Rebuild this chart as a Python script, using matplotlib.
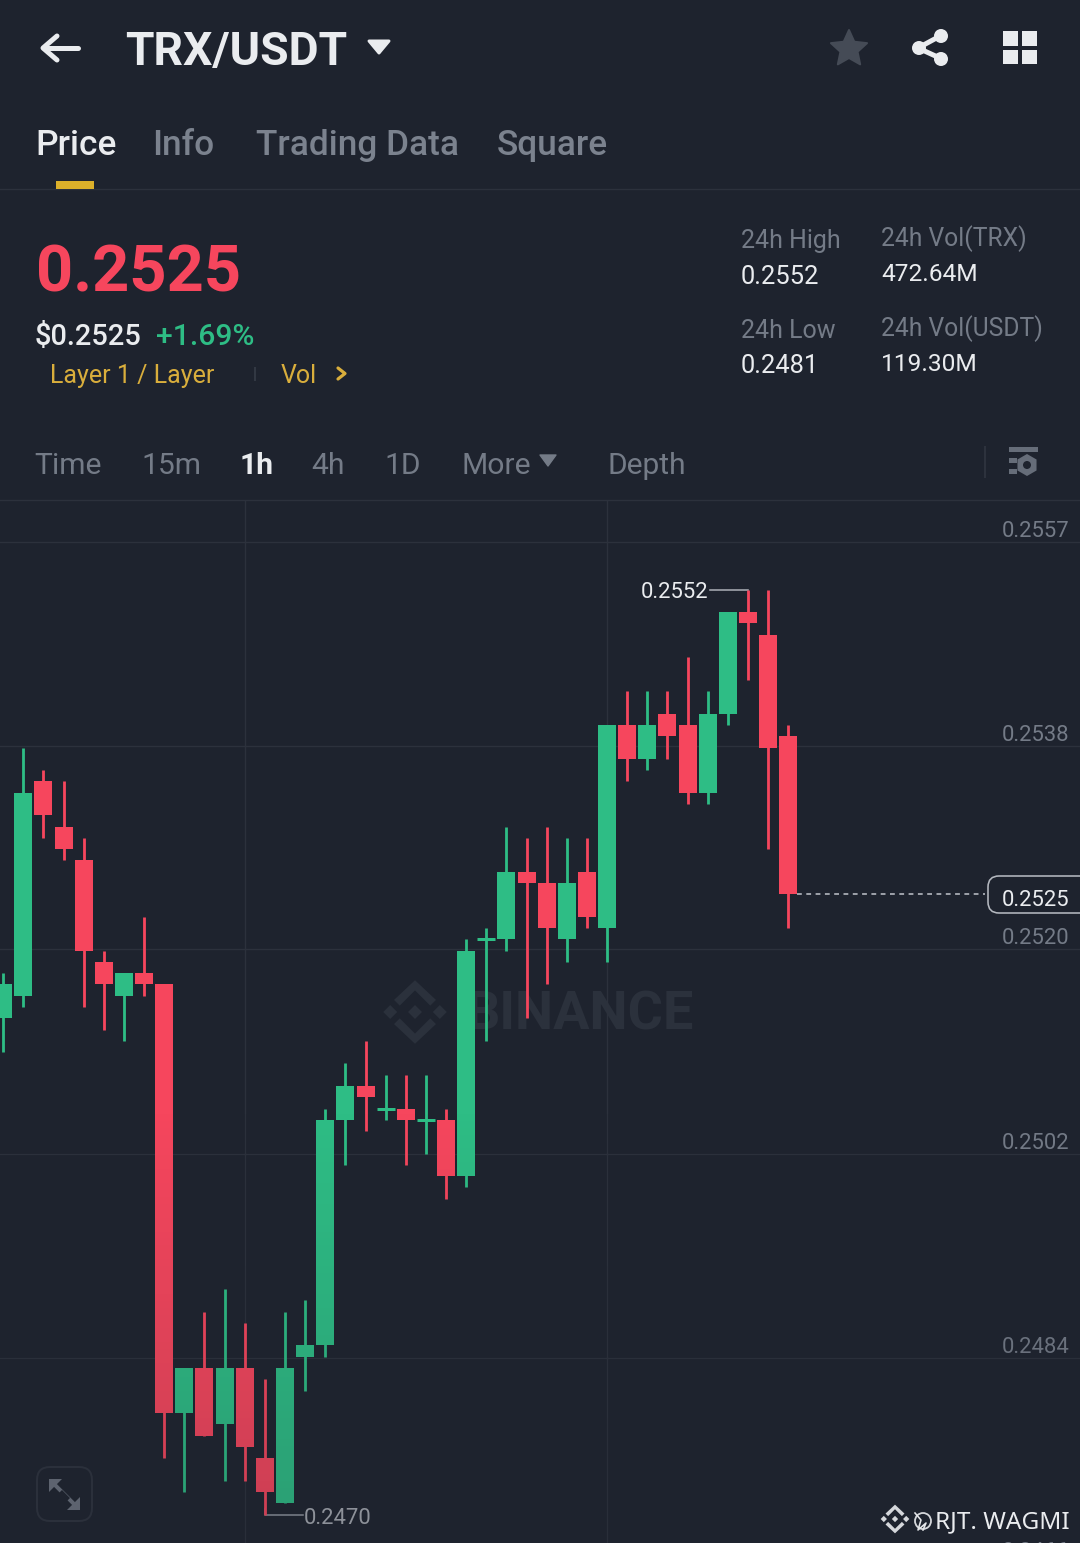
import numpy as np
import matplotlib
matplotlib.use("Agg")
import matplotlib.pyplot as plt
from matplotlib.patches import FancyBboxPatch, Polygon, Circle, Rectangle, RegularPolygon
from matplotlib.colors import ListedColormap

# ---------- data ----------
opens = [.2514,.2516,.2535,.2531,.2528,.2519,.2516,.2518,.2517,.2479,.2483,.2478,.2483,.2475,.2471,.2484,
         .2485,.2505,.2508,.2506,.2506,.2505,.2505,.2500,.2521,.2521,.2527,.2526,.2521,.2527,.2522,.2540,
         .2537,.2541,.2540,.2534,.2541,.2550,.2548,.2539]
closes = [.2517,.2534,.2532,.2529,.2520,.2517,.2518,.2517,.2479,.2483,.2477,.2483,.2476,.2472,.2483,.2485,
          .2505,.2508,.2507,.2506,.2505,.2505,.2500,.2520,.2521,.2527,.2526,.2522,.2526,.2523,.2540,.2537,
          .2540,.2539,.2534,.2541,.2550,.2549,.2538,.2525]
highs = [.2518,.2538,.2536,.2535,.2530,.2520,.2518,.2523,.2517,.2483,.2488,.2490,.2487,.2482,.2488,.2489,
         .2506,.2510,.2512,.2509,.2509,.2509,.2506,.2521,.2522,.2531,.2530,.2531,.2530,.2530,.2540,.2543,
         .2543,.2543,.2546,.2543,.2550,.2552,.2552,.2540]
lows = [.2511,.2515,.2530,.2528,.2515,.2513,.2512,.2516,.2475,.2472,.2477,.2473,.2473,.2470,.2471,.2481,
        .2484,.2501,.2504,.2505,.2501,.2502,.2498,.2499,.2512,.2520,.2514,.2517,.2519,.2522,.2519,.2535,
        .2536,.2537,.2533,.2533,.2540,.2544,.2529,.2522]
tick_values = [0.25562, 0.25381, 0.25201, 0.25020, 0.24839]
tick_labels = ["0.2557", "0.2538", "0.2520", "0.2502", "0.2484"]
vgrid_candles = [12, 30]
last_price = 0.2525
day_high = 0.2552
day_low = 0.2470
tabs = ["Price", "Info", "Trading Data", "Square"]
intervals = ["Time", "15m", "1h", "4h", "1D", "More", "Depth"]

# ---------- style ----------
W, H = 1080, 1543
BG = "#1e232e"
GRID = "#2c313c"
UP = "#2ebd85"
DOWN = "#f6465d"
WHITE = "#eaecef"
GRAY = "#7b828e"
TICK = "#747b87"
YEL = "#d9ae3c"
plt.rcParams["font.family"] = ["Roboto", "DejaVu Sans"]
px = 0.72  # points per pixel at dpi 100

fig = plt.figure(figsize=(W / 100, H / 100), dpi=100, facecolor=BG)


def pixel_axes(z):
    a = fig.add_axes([0, 0, 1, 1], zorder=z)
    a.set_xlim(0, W)
    a.set_ylim(H, 0)
    a.axis("off")
    a.patch.set_alpha(0)
    return a


back = pixel_axes(0)
ui = pixel_axes(5)


def logo(a, cx, cy, s, color, z=1):
    """Binance diamond mark, s = half width in pixels."""
    u = s / 4.0
    for dx, dy in [(-3.2, 0), (3.2, 0), (0, 0)]:
        a.add_patch(Polygon([(cx + dx * u, cy + dy * u - .9 * u), (cx + dx * u + .9 * u, cy + dy * u),
                             (cx + dx * u, cy + dy * u + .9 * u), (cx + dx * u - .9 * u, cy + dy * u)],
                            fc=color, ec="none", zorder=z))
    for sign in (-1, 1):
        pts = [(-2.4, 1.0), (0, 3.4), (2.4, 1.0), (3.3, 1.9), (0, 5.0), (-3.3, 1.9)]
        pts2 = [(cx + x * u * .82, cy + sign * y * u * .82) for x, y in pts]
        a.add_patch(Polygon(pts2, fc=color, ec="none", zorder=z))


# ---------- watermark under the candles ----------
logo(back, 415, 1012, 31, "#2b313c")
back.text(466, 1030, "BINANCE", color="#2b313c", fontsize=54 * px, fontweight="bold", ha="left", va="baseline")

# ---------- candles ----------
ax = fig.add_axes([0, 0, 1, (H - 500) / H], zorder=1)
ax.patch.set_alpha(0)
unit = 11.28
ax.set_ylim(0.2525 + (894.2 - 1543) / unit * 1e-4, 0.2525 + (894.2 - 500) / unit * 1e-4)
ax.set_xlim((0 - 3.2) / 20.13, (W - 3.2) / 20.13)
for s in ax.spines.values():
    s.set_visible(False)
ax.set_xticks(vgrid_candles)
ax.set_xticklabels([])
ax.yaxis.tick_right()
ax.set_yticks(tick_values)
ax.set_yticklabels(tick_labels, color=TICK, fontsize=22 * px, va="bottom")
ax.tick_params(length=0, pad=-78 * px)
ax.grid(True, color=GRID, lw=1.4 * px)
ax.set_axisbelow(True)

idx = np.arange(len(opens))
o, c, h, l = map(np.array, (opens, closes, highs, lows))
cols = [UP if (cc > oo or (cc == oo and i in (19, 21, 24))) else DOWN for i, (oo, cc) in enumerate(zip(o, c))]
ax.vlines(idx, l, h, colors=cols, lw=2.8 * px, zorder=3)
ax.bar(idx, np.abs(c - o), bottom=np.minimum(o, c), width=18 / 20.13, color=cols, lw=0, zorder=4)
doji = np.where(o == c)[0]
for i in doji:
    ax.hlines(o[i], i - 0.45, i + 0.45, colors=cols[i], lw=3 * px, zorder=4)

# last price dashed line
ax.plot([39.45, 48.75], [last_price, last_price], color="#c4c8cf", lw=1.5 * px, dashes=(3.2, 3.0), zorder=2)
# extreme markers
ax.plot([37, 35.12], [day_high, day_high], color="#a7abb2", lw=1.6 * px, zorder=2)
ax.text(35.05, day_high, f"{day_high:.4f}", color=WHITE, fontsize=22 * px, ha="right", va="center_baseline", zorder=5)
ax.plot([13, 13, 14.9], [day_low + .00005, day_low, day_low], color="#8d929b", lw=1.6 * px, zorder=2)
ax.text(14.95, day_low - .00001, f"{day_low:.4f}", color="#a7abb2", fontsize=22 * px, ha="left", va="center_baseline", zorder=5)

# fade at the bottom of the chart (as in the screenshot)
fade = pixel_axes(2)
cmap = ListedColormap(np.c_[np.tile(matplotlib.colors.to_rgb(BG), (64, 1)), np.linspace(0, 0.2, 64)])
fade.imshow(np.linspace(0, 1, 64).reshape(-1, 1), cmap=cmap, extent=(0, W, 1543, 1100), aspect="auto", zorder=1)
fade.set_xlim(0, W)
fade.set_ylim(H, 0)


# ---------- UI text ----------
def T(x, y, s, color=WHITE, size=26, weight="normal", **kw):
    return ui.text(x, y, s, color=color, fontsize=size * px, fontweight=weight, ha="left", va="baseline", **kw)


T(125, 65, "TRX/USDT", size=46.3, weight="bold")
for x, s, col in zip([35, 152, 256, 497], tabs, [WHITE, GRAY, GRAY, GRAY]):
    T(x, 155, s, color=col, size=35.3, weight="medium")
ui.add_patch(Rectangle((56, 181), 38, 8, fc="#dcb02a", ec="none", zorder=3))
ui.plot([0, W], [188.5, 188.5], color=GRID, lw=1.4 * px, zorder=1)
ui.plot([0, W], [499.5, 499.5], color=GRID, lw=1.4 * px, zorder=1)

T(36, 292, "0.2525", color=DOWN, size=65, weight="bold")
T(35, 345, "$0.2525", size=29, weight="medium")
T(156, 345, "+1.69%", color=UP, size=30, weight="medium")
T(50, 383, "Layer 1 / Layer", color=YEL, size=25)
T(281, 383, "Vol", color=YEL, size=25)
ui.plot([338, 345, 338], [368, 373.5, 379], color=YEL, lw=3.2 * px, solid_capstyle="round", solid_joinstyle="round")
ui.plot([255, 255], [368, 380], color="#323843", lw=2 * px)

for x, s in zip([34.5, 141.5, 239.5, 311.5, 384.5, 461, 607], intervals):
    if s == "1h":
        T(x, 474, s, size=30, weight="bold")
    else:
        T(x, 474, s, color=TICK, size=30)
ui.add_patch(Polygon([(540, 455), (556, 455), (548, 466)], fc=TICK, ec=TICK, lw=1, joinstyle="round"))

for x, y, s, col, sz in [(741, 248, "24h High", TICK, 25), (741, 284, "0.2552", WHITE, 25.5),
                         (741, 338, "24h Low", TICK, 25), (741, 373, "0.2481", WHITE, 25.5),
                         (881, 246, "24h Vol(TRX)", TICK, 24.6), (881, 281, "472.64M", WHITE, 24.5),
                         (881, 336, "24h Vol(USDT)", TICK, 24.6), (881, 371, "119.30M", WHITE, 24.5)]:
    T(x, y, s, color=col, size=sz)

# price pill
ui.add_patch(FancyBboxPatch((988, 876), 104, 37, boxstyle="round,pad=0,rounding_size=11", fc=BG, ec="#b4b8bf",
                            lw=1.6 * px, zorder=2, clip_on=True))
ui.text(1002, 898, f"{last_price:.4f}", color=WHITE, fontsize=22 * px, ha="left", va="center_baseline", zorder=3)
ui.text(1002, 1550, "0.2466", color=TICK, fontsize=22 * px, ha="left", va="center_baseline", zorder=3)

# ---------- UI icons ----------
ui.plot([44, 78], [48, 48], color=WHITE, lw=5 * px, solid_capstyle="round")
ui.plot([57, 43, 57], [36, 48, 60], color=WHITE, lw=5 * px, solid_capstyle="round", solid_joinstyle="round")
ui.add_patch(Polygon([(369, 41), (389, 41), (379, 53)], fc=WHITE, ec=WHITE, lw=3 * px, joinstyle="round"))

ang = np.deg2rad(90 + 36 * np.arange(10))
rad = np.where(np.arange(10) % 2 == 0, 19, 9)
ui.add_patch(Polygon(np.c_[849 + rad * np.cos(ang), 49 - rad * np.sin(ang)], fc="#454b56", ec="#454b56",
                     lw=2 * px, joinstyle="round"))

ui.plot([942, 918, 942], [35, 48, 59], color=WHITE, lw=5 * px)
for cx, cy, r in [(919, 48, 7), (941, 36, 7), (941, 59, 7)]:
    ui.add_patch(Circle((cx, cy), r, fc=WHITE, ec="none"))

for x0, y0, w, h_ in [(1003, 31, 15, 15), (1022, 31, 15, 15), (1003, 50, 15, 14), (1022, 50, 15, 14)]:
    ui.add_patch(Rectangle((x0, y0), w, h_, fc=WHITE, ec="none"))

ui.plot([985, 985], [447, 477], color="#2d323d", lw=2 * px)
IC = "#666d79"
ui.add_patch(Rectangle((1009, 447), 29, 4.5, fc=IC, ec="none"))
ui.add_patch(Rectangle((1009, 458), 8, 4.5, fc=IC, ec="none"))
ui.add_patch(Rectangle((1009, 469), 8, 4.5, fc=IC, ec="none"))
ui.add_patch(RegularPolygon((1027, 465), 6, radius=11, fc=IC, ec="none", zorder=2))
ui.add_patch(Circle((1027, 465), 4, fc=BG, ec="none", zorder=3))

# expand button
ui.add_patch(FancyBboxPatch((37, 1467), 55, 54, boxstyle="round,pad=0,rounding_size=13", fc="none", ec="#2b303b",
                            lw=2 * px))
EX = "#5d636f"
ui.add_patch(Polygon([(49, 1479), (62, 1479), (49, 1492)], fc=EX, ec="none"))
ui.add_patch(Polygon([(80, 1510), (67, 1510), (80, 1497)], fc=EX, ec="none"))
ui.plot([53, 76], [1483, 1506], color=EX, lw=4 * px)
ui.add_patch(Polygon([(62, 1490), (70, 1498), (67, 1501), (59, 1493)], fc=BG, ec="none", zorder=3))

# bottom credit
logo(ui, 895, 1519, 14, "#d5d7db", z=3)
ui.add_patch(Circle((923, 1521), 8, fc="none", ec="#d5d7db", lw=1.8 * px))
ui.plot([915, 921, 918, 926, 923], [1513, 1520, 1530, 1523, 1530], color="#e4e6e9", lw=1.6 * px)
ui.text(935, 1528, "RJT. WAGMI", color=WHITE, fontsize=24.4 * px, ha="left", va="baseline", family=["Noto Sans", "DejaVu Sans"])

fig.savefig("out.png", dpi=100, facecolor=BG)
